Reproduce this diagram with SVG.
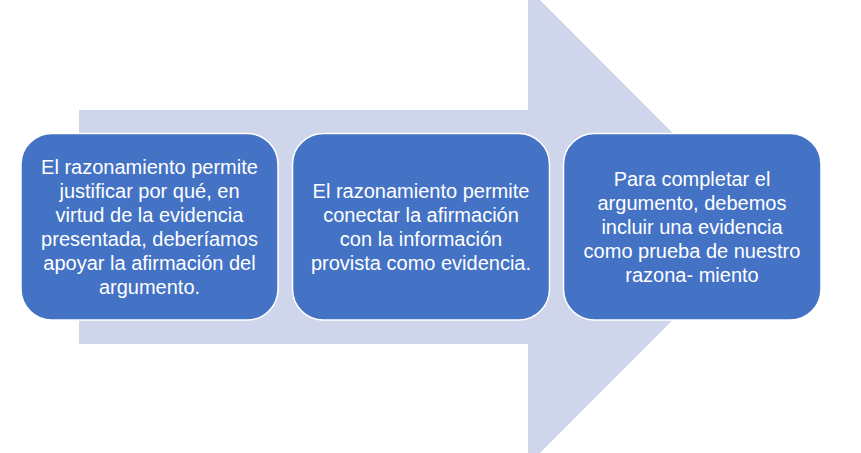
<svg xmlns="http://www.w3.org/2000/svg" width="861" height="453" viewBox="0 0 861 453">
<style>
.box{fill:#4472C4;stroke:#FFFFFF;stroke-width:1.5}
.t{font-family:"Liberation Sans",Arial,sans-serif;font-size:20px;fill:#FFFFFF;text-anchor:middle}
</style>
<rect width="861" height="453" fill="#FFFFFF"/>
<g id="arrow">
<polygon points="79,110 528,110 528,-12 766,226.5 528,465 528,344 79,344" fill="#CFD5EA"/>
</g>
<g id="connectors"></g>
<g id="node1">
<rect class="box" x="21" y="133.5" width="257" height="186.5" rx="31" ry="31"/>
<text class="t" x="149.5" y="174">El razonamiento permite</text>
<text class="t" x="149.5" y="198">justificar por qué, en</text>
<text class="t" x="149.5" y="222">virtud de la evidencia</text>
<text class="t" x="149.5" y="246">presentada, deberíamos</text>
<text class="t" x="149.5" y="270">apoyar la afirmación del</text>
<text class="t" x="149.5" y="294">argumento.</text>
</g>
<g id="node2">
<rect class="box" x="292.5" y="133.5" width="257" height="186.5" rx="31" ry="31"/>
<text class="t" x="421" y="198">El razonamiento permite</text>
<text class="t" x="421" y="222">conectar la afirmación</text>
<text class="t" x="421" y="246">con la información</text>
<text class="t" x="421" y="270">provista como evidencia.</text>
</g>
<g id="node3">
<rect class="box" x="563.5" y="133.5" width="257.5" height="186.5" rx="31" ry="31"/>
<text class="t" x="692" y="186">Para completar el</text>
<text class="t" x="692" y="210">argumento, debemos</text>
<text class="t" x="692" y="234">incluir una evidencia</text>
<text class="t" x="692" y="258">como prueba de nuestro</text>
<text class="t" x="692" y="282">razona- miento</text>
</g>
</svg>
